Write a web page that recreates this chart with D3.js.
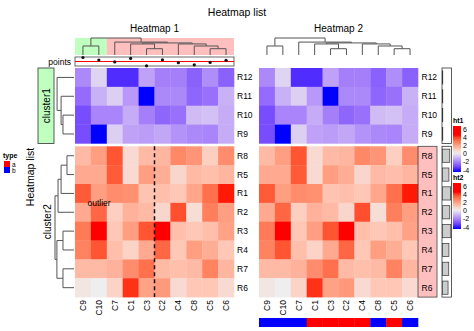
<!DOCTYPE html>
<html>
<head>
<meta charset="utf-8">
<script src="https://cdn.jsdelivr.net/npm/d3@7"></script>
<style>
  body { margin: 0; background: #fff; }
  text { font-family: "Liberation Sans", Arial, sans-serif; }
</style>
</head>
<body>
<div id="chart"></div>
<script>
// column order after clustering
const columns = ["C9", "C10", "C7", "C1", "C3", "C2", "C4", "C8", "C5", "C6"];
const cluster1Rows = ["R12", "R11", "R10", "R9"];
const cluster2Rows = ["R8", "R5", "R1", "R2", "R3", "R4", "R7", "R6"];

const cluster1Values = [
    [-2.0, -0.5, -3.8, -3.8, -1.5, -2.2, -2.2, -2.8, -1.9, -2.8],
    [-2.6, -1.2, -0.6, -1.7, -4.5, -2.0, -2.0, -2.7, -2.5, -1.2],
    [-3.2, -2.1, -2.1, -1.3, -2.2, -2.7, -2.5, -1.0, -0.9, -1.3],
    [-3.2, -4.5, -0.6, -1.5, -1.6, -1.4, -1.8, -2.0, -2.1, -1.3]
];
const cluster2Values = [
    [1.3, 2.0, 3.5, 0.5, 1.3, 1.4, 2.5, 2.2, 0.8, 2.4],
    [1.7, 1.7, 3.4, 0.5, 2.0, 1.6, 0.6, 1.3, 1.2, 1.4],
    [3.4, 2.0, 2.4, 2.3, 1.1, 1.2, 1.0, 1.8, 3.0, 4.2],
    [1.7, 3.2, 0.8, 1.5, 1.3, 0.6, 3.6, 0.4, 2.7, 2.0],
    [2.8, 4.6, 1.0, 2.0, 3.5, 4.6, 1.2, 1.0, 1.2, 1.9],
    [2.6, 3.5, 1.2, 0.7, 1.7, 3.2, 1.0, 2.0, 1.6, 1.0],
    [1.3, 1.3, 1.5, 2.4, 3.0, 1.3, 1.2, 1.3, 2.6, 1.4],
    [0.2, 0.0, 0.7, 4.0, 1.9, 2.1, 0.5, 1.0, 1.0, 0.5]
];

const pointValues = [1.87, 0.67, -0.22, 1.42, -2.0, 0.8, -0.53, -1.56, -0.44, 0.53];
const columnTypes = ["b", "b", "b", "a", "a", "a", "a", "b", "a", "b"];
const typeNames = ["a", "b"];
const cluster1Bars = [0.08, 0.08, 0.08, 0.08];
const cluster2Bars = [2.1, 1.85, 2.35, 2.1, 2.4, 1.85, 1.8, 1.6];
const legendTicks = [6, 4, 2, 0, -2, -4];

// dendrograms: [height, left, right]
const columnTree = [10,
    [5.3, "C9", "C10"],
    [7.6, "C7",
        [7.1,
            [6.5, "C1", [3.7, "C3", "C2"]],
            [6.5, "C4", [5.3, "C8", [3.7, "C5", "C6"]]]]]];
const cluster1Tree = [8.9, "R12", [6.8, "R11", [5.8, "R10", "R9"]]];
const cluster2Tree = [10,
    [8.4, [6.8, [3.7, "R8", "R5"], "R1"], "R2"],
    [9, [5.8, "R3", "R4"], [5.8, "R7", "R6"]]];

const W = 474, H = 331;
const svg = d3.select("#chart").append("svg")
    .attr("width", W).attr("height", H);

const color = d3.scaleLinear()
    .domain([-4.3, 0, 4.3])
    .range(["blue", "#EEEEEE", "red"])
    .interpolate(d3.interpolateLab)
    .clamp(true);
const typeColor = d3.scaleOrdinal().domain(typeNames).range(["red", "blue"]);

const x1 = d3.scaleBand().domain(columns).range([75, 234]);
const x2 = d3.scaleBand().domain(columns).range([259, 418]);
const slice1 = d3.scaleBand().domain(cluster1Rows).range([68, 143.4]);
const slice2 = d3.scaleBand().domain(cluster2Rows).range([146.3, 297.1]);
const slices = [
    {rows: cluster1Rows, values: cluster1Values, y: slice1, bars: cluster1Bars},
    {rows: cluster2Rows, values: cluster2Values, y: slice2, bars: cluster2Bars}
];

function drawBody(g, x) {
    slices.forEach(s => {
        const cells = [];
        s.values.forEach((row, i) => row.forEach((v, j) =>
            cells.push({r: s.rows[i], c: columns[j], v})));
        g.append("g").selectAll("rect")
            .data(cells)
            .join("rect")
            .attr("x", d => x(d.c))
            .attr("y", d => s.y(d.r))
            .attr("width", x.bandwidth() + 0.3)
            .attr("height", s.y.bandwidth() + 0.3)
            .attr("fill", d => color(d.v));
    });
}

function rowLabels(g, xPos) {
    slices.forEach(s => {
        g.append("g").selectAll("text")
            .data(s.rows)
            .join("text")
            .attr("x", xPos)
            .attr("y", d => s.y(d) + s.y.bandwidth() / 2)
            .attr("dominant-baseline", "central")
            .attr("font-size", 8.5)
            .text(d => d);
    });
}

function colLabels(g, x) {
    g.append("g").selectAll("text")
        .data(columns)
        .join("text")
        .attr("transform", d => `translate(${x(d) + x.bandwidth() / 2},300) rotate(-90)`)
        .attr("text-anchor", "end")
        .attr("dominant-baseline", "central")
        .attr("font-size", 8.5)
        .text(d => d);
}

// recursive tree layout: leaves at their band centre, nodes at mid of children
function layout(node, leafPos) {
    if (typeof node === "string") return {pos: leafPos(node), h: 0};
    const l = layout(node[1], leafPos), r = layout(node[2], leafPos);
    return {pos: (l.pos + r.pos) / 2, h: node[0], kids: [l, r]};
}
function colDend(g, tree, x, hy) {
    const root = layout(tree, d => x(d) + x.bandwidth() / 2);
    const paths = [];
    (function walk(n) {
        if (!n.kids) return;
        const [l, r] = n.kids;
        paths.push(`M${l.pos},${hy(l.h)}V${hy(n.h)}H${r.pos}V${hy(r.h)}`);
        walk(l); walk(r);
    })(root);
    g.append("g").selectAll("path").data(paths).join("path")
        .attr("d", d => d).attr("fill", "none")
        .attr("stroke", "#555").attr("stroke-width", 1);
}
function rowDend(g, tree, y, hx) {
    const root = layout(tree, d => y(d) + y.bandwidth() / 2);
    const paths = [];
    (function walk(n) {
        if (!n.kids) return;
        const [l, r] = n.kids;
        paths.push(`M${hx(l.h)},${l.pos}H${hx(n.h)}V${r.pos}H${hx(r.h)}`);
        walk(l); walk(r);
    })(root);
    g.append("g").selectAll("path").data(paths).join("path")
        .attr("d", d => d).attr("fill", "none")
        .attr("stroke", "#555").attr("stroke-width", 1);
}

// titles
svg.append("text").attr("x", 237).attr("y", 16).attr("text-anchor", "middle")
    .attr("font-size", 10.5).text("Heatmap list");
svg.append("text").attr("transform", "translate(30,177) rotate(-90)")
    .attr("text-anchor", "middle").attr("dominant-baseline", "central")
    .attr("font-size", 10.5).text("Heatmap list");
svg.append("text").attr("x", 154.5).attr("y", 32).attr("text-anchor", "middle")
    .attr("font-size", 10).text("Heatmap 1");
svg.append("text").attr("x", 338.5).attr("y", 32).attr("text-anchor", "middle")
    .attr("font-size", 10).text("Heatmap 2");

// ---- heatmap 1 ----
const ht1 = svg.append("g");
const colH = d3.scaleLinear().domain([0, 10]).range([55, 38]);

// coloured background behind the two column groups
const groups = [
    {from: "C9", to: "C10", fill: "#00FF0040"},
    {from: "C7", to: "C6", fill: "#FF000040"}
];
ht1.selectAll("rect.bg").data(groups).join("rect")
    .attr("x", d => x1(d.from))
    .attr("width", d => x1(d.to) + x1.bandwidth() - x1(d.from))
    .attr("y", 38).attr("height", 17)
    .attr("fill", d => d.fill);
colDend(ht1, columnTree, x1, colH);

// points annotation
const py = d3.scaleLinear().domain([-2.1, 2.1]).range([66, 57]);
ht1.append("rect").attr("x", 75).attr("y", 57).attr("width", 159).attr("height", 9)
    .attr("fill", "none").attr("stroke", "#444").attr("stroke-width", 0.8);
ht1.append("line").attr("x1", 75).attr("x2", 234)
    .attr("y1", py(0)).attr("y2", py(0))
    .attr("stroke", "red").attr("stroke-width", 1);
ht1.append("g").selectAll("circle").data(pointValues).join("circle")
    .attr("cx", (d, i) => x1(columns[i]) + x1.bandwidth() / 2)
    .attr("cy", d => py(d))
    .attr("r", 1.6).attr("fill", "#111");
ht1.append("text").attr("x", 71).attr("y", 62).attr("text-anchor", "end")
    .attr("dominant-baseline", "central").attr("font-size", 8.5).text("points");

drawBody(ht1, x1);

// decoration in the lower slice
ht1.append("line").attr("x1", 154.5).attr("x2", 154.5)
    .attr("y1", slice2.range()[0]).attr("y2", slice2.range()[1])
    .attr("stroke", "#111").attr("stroke-width", 1.5).attr("stroke-dasharray", "4,3");
ht1.append("text").attr("x", 99).attr("y", 203).attr("text-anchor", "middle")
    .attr("dominant-baseline", "central").attr("font-size", 8.5).text("outlier");

rowLabels(ht1, 237);
colLabels(ht1, x1);

// row dendrograms and slice titles
const rowH = d3.scaleLinear().domain([0, 10]).range([74, 55]);
rowDend(ht1, cluster1Tree, slice1, rowH);
rowDend(ht1, cluster2Tree, slice2, rowH);
ht1.append("rect").attr("x", 38).attr("y", 68).attr("width", 16).attr("height", 75.4)
    .attr("fill", "#00FF0040").attr("stroke", "#333").attr("stroke-width", 0.8);
ht1.append("text").attr("transform", "translate(46,105.7) rotate(-90)")
    .attr("text-anchor", "middle").attr("dominant-baseline", "central")
    .attr("font-size", 10).text("cluster1");
ht1.append("text").attr("transform", "translate(47,221.7) rotate(-90)")
    .attr("text-anchor", "middle").attr("dominant-baseline", "central")
    .attr("font-size", 10).text("cluster2");

// ---- heatmap 2 ----
const ht2 = svg.append("g");
colDend(ht2, columnTree, x2, colH);
drawBody(ht2, x2);
ht2.append("rect").attr("x", 418).attr("y", slice2.range()[0])
    .attr("width", 19).attr("height", slice2.range()[1] - slice2.range()[0])
    .attr("fill", "#FF000040").attr("stroke", "#444").attr("stroke-width", 0.8);
rowLabels(ht2, 421.5);
colLabels(ht2, x2);

// type annotation under heatmap 2
ht2.append("g").selectAll("rect").data(columnTypes).join("rect")
    .attr("x", (d, i) => x2(columns[i]))
    .attr("y", 318).attr("width", x2.bandwidth() + 0.3).attr("height", 9)
    .attr("fill", d => typeColor(d));

// ---- bar annotation ----
const bx = d3.scaleLinear().domain([0, 2.45]).range([442.5, 451]);
const bars = svg.append("g");
slices.forEach(s => {
    bars.append("rect").attr("x", 442).attr("y", s.y.range()[0])
        .attr("width", 9.5).attr("height", s.y.range()[1] - s.y.range()[0])
        .attr("fill", "none").attr("stroke", "#333").attr("stroke-width", 0.8);
    bars.append("g").selectAll("rect").data(s.bars).join("rect")
        .attr("x", bx(0))
        .attr("y", (d, i) => s.y(s.rows[i]) + s.y.bandwidth() * 0.15)
        .attr("width", d => bx(d) - bx(0))
        .attr("height", s.y.bandwidth() * 0.7)
        .attr("fill", "#CCCCCC").attr("stroke", "#333").attr("stroke-width", 0.7);
});

// ---- legends ----
function colorLegend(top, title) {
    const g = svg.append("g");
    const ly = d3.scaleLinear().domain([-4, 6]).range([top + 44, top + 3]);
    const id = "grad" + title;
    const grad = svg.append("defs").append("linearGradient").attr("id", id)
        .attr("x1", 0).attr("x2", 0).attr("y1", 1).attr("y2", 0);
    d3.range(-4.6, 6.61, 0.5).forEach(v => {
        grad.append("stop")
            .attr("offset", (v + 4.6) / 11.2)
            .attr("stop-color", color(v));
    });
    g.append("text").attr("x", 453).attr("y", top - 3).attr("font-size", 7)
        .attr("font-weight", "bold").text(title);
    g.append("rect").attr("x", 453).attr("y", top).attr("width", 8).attr("height", 46)
        .attr("fill", `url(#${id})`);
    g.selectAll("text.tick").data(legendTicks).join("text")
        .attr("class", "tick")
        .attr("x", 463).attr("y", d => ly(d))
        .attr("dominant-baseline", "central").attr("font-size", 7)
        .text(d => d);
}
colorLegend(126, "ht1");
colorLegend(183, "ht2");

// type legend
const tl = svg.append("g");
tl.append("text").attr("x", 3).attr("y", 158).attr("font-size", 7)
    .attr("font-weight", "bold").text("type");
tl.selectAll("rect").data(typeNames).join("rect")
    .attr("x", 4).attr("y", (d, i) => 161 + i * 6)
    .attr("width", 6).attr("height", 6)
    .attr("fill", d => typeColor(d));
tl.selectAll("text.lab").data(typeNames).join("text")
    .attr("class", "lab")
    .attr("x", 12).attr("y", (d, i) => 164 + i * 6)
    .attr("dominant-baseline", "central").attr("font-size", 6.5)
    .text(d => d);
</script>
</body>
</html>
